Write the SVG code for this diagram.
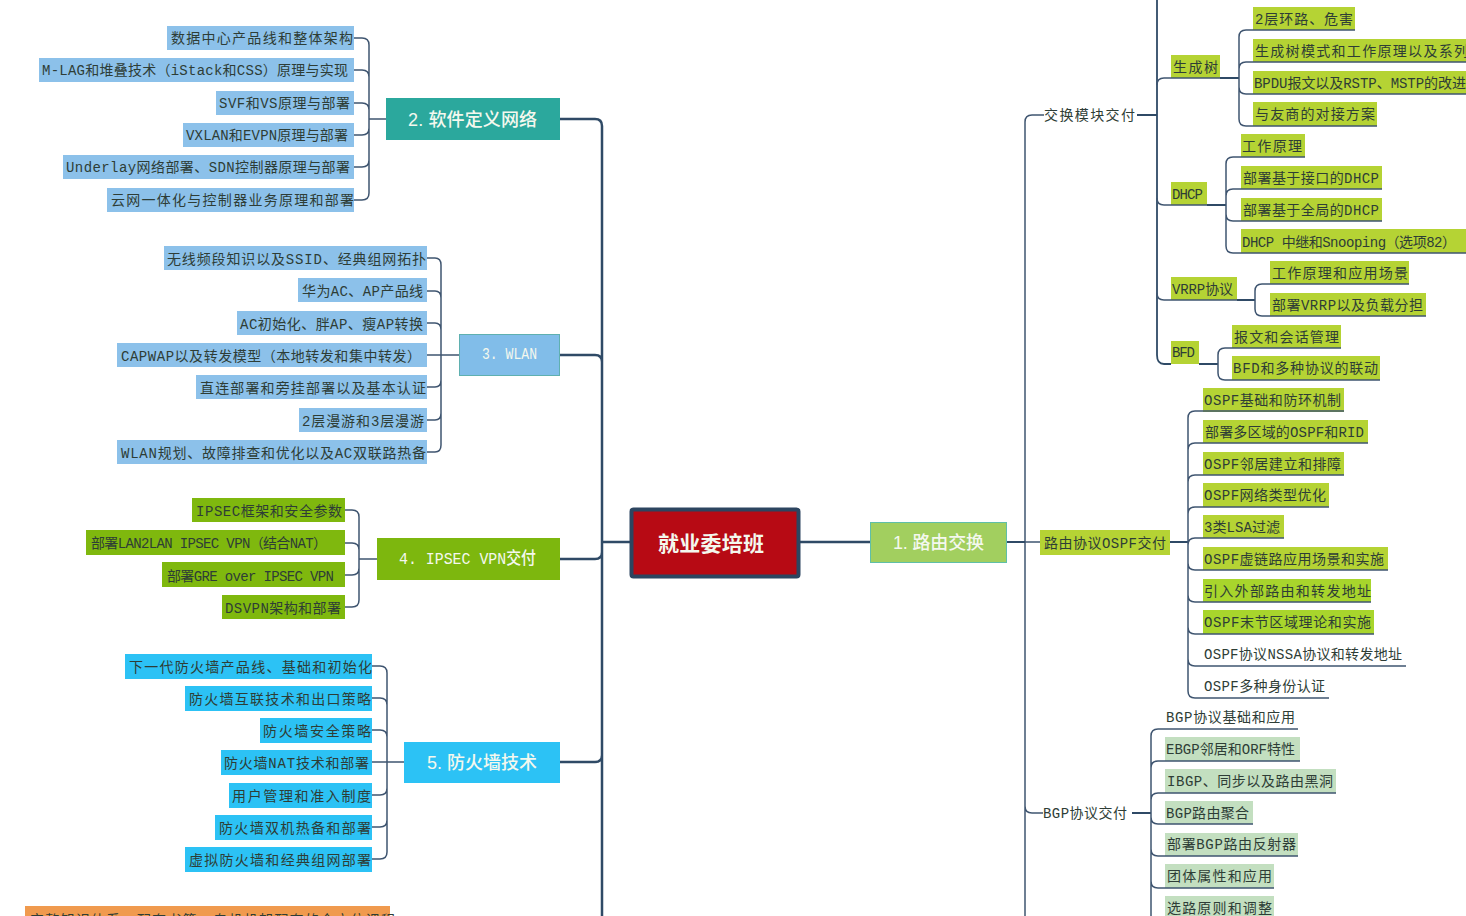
<svg xmlns="http://www.w3.org/2000/svg" width="1466" height="916" viewBox="0 0 1466 916">
<style>
text{font-family:"Liberation Mono","Noto Sans CJK SC",monospace;font-size:14px;fill:#2e3d36;dominant-baseline:central}
.h{font-family:"Liberation Sans","Noto Sans CJK SC",sans-serif;fill:#f4f8ee;font-size:18px;font-weight:500}
.m{font-family:"Liberation Mono","Noto Sans CJK SC",monospace;fill:#f4f8ee;font-size:17px;font-weight:500}
.c{fill:none;stroke:#3f5570;stroke-width:1.5}
.t{fill:none;stroke:#2f4a66;stroke-width:2.5}
.d{fill:none;stroke:#2f4a66;stroke-width:1.8}
.b1{fill:#8cc1ea}.b2{fill:#7fb80e}.b3{fill:#2cc2f5}.g{fill:#b5d334}.g2{fill:#a8d52c}.p{fill:#c3dfc0}
</style>
<rect width="1466" height="916" fill="#fff"/>
<g id="s2">
<g id="s2a"><rect class="b1" x="167" y="26" width="187" height="24"/><text x="171" y="39" textLength="182">数据中心产品线和整体架构</text></g>
<g id="s2b"><rect class="b1" x="39" y="58" width="315" height="24"/><text x="42" y="71" textLength="306">M-LAG和堆叠技术（iStack和CSS）原理与实现</text></g>
<g id="s2c"><rect class="b1" x="216" y="91" width="138" height="24"/><text x="219" y="104" textLength="131">SVF和VS原理与部署</text></g>
<g id="s2d"><rect class="b1" x="183" y="123" width="171" height="24"/><text x="186" y="136" textLength="162">VXLAN和EVPN原理与部署</text></g>
<g id="s2e"><rect class="b1" x="63" y="155" width="291" height="24"/><text x="66" y="168" textLength="284">Underlay网络部署、SDN控制器原理与部署</text></g>
<g id="s2f"><rect class="b1" x="107" y="188" width="247" height="24"/><text x="111" y="201" textLength="243">云网一体化与控制器业务原理和部署</text></g>
</g>
<g id="s3">
<g id="s3a"><rect class="b1" x="164" y="246" width="263" height="24"/><text x="167" y="260" textLength="259">无线频段知识以及SSID、经典组网拓扑</text></g>
<g id="s3b"><rect class="b1" x="298" y="278" width="129" height="24"/><text x="302" y="292" textLength="121">华为AC、AP产品线</text></g>
<g id="s3c"><rect class="b1" x="237" y="311" width="190" height="24"/><text x="240" y="325" textLength="183">AC初始化、胖AP、瘦AP转换</text></g>
<g id="s3d"><rect class="b1" x="117" y="343" width="310" height="24"/><text x="121" y="357" textLength="300">CAPWAP以及转发模型（本地转发和集中转发）</text></g>
<g id="s3e"><rect class="b1" x="196" y="375" width="231" height="24"/><text x="200" y="389" textLength="226">直连部署和旁挂部署以及基本认证</text></g>
<g id="s3f"><rect class="b1" x="299" y="408" width="128" height="24"/><text x="302" y="422" textLength="122">2层漫游和3层漫游</text></g>
<g id="s3g"><rect class="b1" x="117" y="440" width="310" height="24"/><text x="121" y="454" textLength="305">WLAN规划、故障排查和优化以及AC双联路热备</text></g>
</g>
<g id="s4">
<g id="s4a"><rect class="b2" x="192" y="498" width="153" height="24"/><text x="196" y="512" textLength="146">IPSEC框架和安全参数</text></g>
<g id="s4b"><rect class="b2" x="86" y="530" width="259" height="25"/><text x="91" y="544" textLength="236">部署LAN2LAN IPSEC VPN（结合NAT）</text></g>
<g id="s4c"><rect class="b2" x="162" y="562" width="183" height="25"/><text x="167" y="577" textLength="167">部署GRE over IPSEC VPN</text></g>
<g id="s4d"><rect class="b2" x="222" y="595" width="123" height="24"/><text x="225" y="609" textLength="116">DSVPN架构和部署</text></g>
</g>
<g id="s5">
<g id="s5a"><rect class="b3" x="125" y="654" width="247" height="25"/><text x="129" y="668" textLength="243">下一代防火墙产品线、基础和初始化</text></g>
<g id="s5b"><rect class="b3" x="185" y="686" width="187" height="25"/><text x="189" y="700" textLength="182">防火墙互联技术和出口策略</text></g>
<g id="s5c"><rect class="b3" x="260" y="718" width="112" height="25"/><text x="263" y="732" textLength="108">防火墙安全策略</text></g>
<g id="s5d"><rect class="b3" x="221" y="750" width="151" height="25"/><text x="224" y="764" textLength="145">防火墙NAT技术和部署</text></g>
<g id="s5e"><rect class="b3" x="229" y="783" width="143" height="25"/><text x="232" y="797" textLength="139">用户管理和准入制度</text></g>
<g id="s5f"><rect class="b3" x="215" y="815" width="157" height="25"/><text x="219" y="829" textLength="152">防火墙双机热备和部署</text></g>
<g id="s5g"><rect class="b3" x="185" y="847" width="187" height="25"/><text x="189" y="861" textLength="182">虚拟防火墙和经典组网部署</text></g>
</g>
<g id="s6"><rect x="25" y="906" width="365" height="10" fill="#f09a4e"/><text x="30" y="921" textLength="365">完整知识体系、配套书籍、专机机架配套的全方位课程</text></g>

<g id="switching"><text x="1044" y="116" textLength="91">交换模块交付</text></g>
<g id="stp">
<g id="stpn"><rect class="g" x="1171" y="55" width="49" height="23"/><text x="1173" y="68" textLength="45">生成树</text></g>
<g id="stp1"><rect class="g" x="1253" y="7" width="102" height="23"/><text x="1255" y="20" textLength="98">2层环路、危害</text></g>
<g id="stp2"><rect class="g" x="1253" y="39" width="213" height="23"/><text x="1255" y="52" textLength="213">生成树模式和工作原理以及系列</text></g>
<g id="stp3"><rect class="g" x="1253" y="71" width="213" height="23"/><text x="1254" y="84" textLength="212">BPDU报文以及RSTP、MSTP的改进</text></g>
<g id="stp4"><rect class="g" x="1253" y="102" width="124" height="24"/><text x="1255" y="115" textLength="120">与友商的对接方案</text></g>
</g>
<g id="dhcp">
<g id="dhcpn"><rect class="g" x="1171" y="182" width="36" height="23"/><text x="1172" y="195" textLength="31">DHCP</text></g>
<g id="dhcp1"><rect class="g" x="1241" y="134" width="64" height="23"/><text x="1242" y="147" textLength="60">工作原理</text></g>
<g id="dhcp2"><rect class="g" x="1241" y="166" width="141" height="23"/><text x="1243" y="179" textLength="136">部署基于接口的DHCP</text></g>
<g id="dhcp3"><rect class="g" x="1241" y="198" width="141" height="23"/><text x="1243" y="211" textLength="136">部署基于全局的DHCP</text></g>
<g id="dhcp4"><rect class="g" x="1241" y="229" width="225" height="24"/><text x="1242" y="243" textLength="214">DHCP 中继和Snooping（选项82）</text></g>
</g>
<g id="vrrp">
<g id="vrrpn"><rect class="g" x="1171" y="277" width="66" height="23"/><text x="1172" y="290" textLength="61">VRRP协议</text></g>
<g id="vrrp1"><rect class="g" x="1270" y="261" width="139" height="23"/><text x="1272" y="274" textLength="136">工作原理和应用场景</text></g>
<g id="vrrp2"><rect class="g" x="1270" y="293" width="156" height="23"/><text x="1272" y="306" textLength="151">部署VRRP以及负载分担</text></g>
</g>
<g id="bfd">
<g id="bfdn"><rect class="g" x="1171" y="341" width="28" height="23"/><text x="1172" y="353" textLength="23">BFD</text></g>
<g id="bfd1"><rect class="g" x="1232" y="325" width="109" height="23"/><text x="1234" y="338" textLength="105">报文和会话管理</text></g>
<g id="bfd2"><rect class="g" x="1232" y="356" width="148" height="24"/><text x="1233" y="369" textLength="145">BFD和多种协议的联动</text></g>
</g>
<g id="ospf">
<g id="ospfn"><rect class="g" x="1040" y="530" width="130" height="25"/><text x="1044" y="544" textLength="122">路由协议OSPF交付</text></g>
<g id="o1"><rect class="g" x="1203" y="388" width="141" height="24"/><text x="1204" y="401" textLength="137">OSPF基础和防环机制</text></g>
<g id="o2"><rect class="g" x="1203" y="420" width="165" height="23"/><text x="1205" y="433" textLength="159">部署多区域的OSPF和RID</text></g>
<g id="o3"><rect class="g" x="1203" y="452" width="141" height="23"/><text x="1204" y="465" textLength="137">OSPF邻居建立和排障</text></g>
<g id="o4"><rect class="g" x="1203" y="483" width="126" height="24"/><text x="1204" y="496" textLength="122">OSPF网络类型优化</text></g>
<g id="o5"><rect class="g" x="1203" y="515" width="81" height="23"/><text x="1204" y="528" textLength="76">3类LSA过滤</text></g>
<g id="o6"><rect class="g" x="1203" y="547" width="185" height="23"/><text x="1204" y="560" textLength="180">OSPF虚链路应用场景和实施</text></g>
<g id="o7"><rect class="g2" x="1203" y="579" width="168" height="23"/><text x="1204" y="592" textLength="167">引入外部路由和转发地址</text></g>
<g id="o8"><rect class="g2" x="1203" y="610" width="171" height="24"/><text x="1204" y="623" textLength="167">OSPF末节区域理论和实施</text></g>
<g id="o9"><text x="1204" y="655" textLength="198">OSPF协议NSSA协议和转发地址</text></g>
<g id="o10"><text x="1204" y="687" textLength="121">OSPF多种身份认证</text></g>
</g>
<g id="bgp">
<g id="bgpn"><text x="1043" y="814" textLength="84">BGP协议交付</text></g>
<g id="b1"><text x="1166" y="718" textLength="129">BGP协议基础和应用</text></g>
<g id="b2"><rect class="p" x="1165" y="737" width="135" height="24"/><text x="1166" y="750" textLength="129">EBGP邻居和ORF特性</text></g>
<g id="b3"><rect class="p" x="1165" y="769" width="171" height="24"/><text x="1167" y="782" textLength="166">IBGP、同步以及路由黑洞</text></g>
<g id="b4"><rect class="p" x="1165" y="801" width="88" height="23"/><text x="1166" y="814" textLength="83">BGP路由聚合</text></g>
<g id="b5"><rect class="p" x="1165" y="833" width="133" height="23"/><text x="1167" y="845" textLength="129">部署BGP路由反射器</text></g>
<g id="b6"><rect class="p" x="1165" y="864" width="109" height="24"/><text x="1167" y="877" textLength="105">团体属性和应用</text></g>
<g id="b7"><rect class="p" x="1165" y="896" width="109" height="20"/><text x="1167" y="909" textLength="105">选路原则和调整</text></g>
</g>
<g id="connectors">
<path class="t" d="M800 542H870M560 119H595Q602 119 602 126V916M560 355H595Q602 355 602 362M560 559H595Q602 559 602 552M560 762H595Q602 762 602 755M602 542H630"/>
<path class="c" d="M354 38H362Q369 38 369 45V193Q369 200 362 200H354M354 70H362Q369 70 369 77M354 103H362Q369 103 369 110M354 135H362Q369 135 369 128M354 167H362Q369 167 369 160M369 119H386"/>
<path class="c" d="M427 258H435Q441 258 441 265V445Q441 452 435 452H427M427 291H435Q441 291 441 298M427 323H435Q441 323 441 330M427 355H459M427 387H435Q441 387 441 380M427 420H435Q441 420 441 413"/>
<path class="c" d="M345 510H352Q359 510 359 517V600Q359 607 352 607H345M345 543H352Q359 543 359 550M345 575H352Q359 575 359 568M359 559H377"/>
<path class="c" d="M372 666H380Q387 666 387 673V852Q387 859 380 859H372M372 698H380Q387 698 387 705M372 730H380Q387 730 387 737M372 762H404M372 795H380Q387 795 387 788M372 827H380Q387 827 387 820"/>
<path class="c" d="M1007 542H1040M1044 115H1032Q1025 115 1025 122V916M1043 813H1032Q1025 813 1025 806"/>
<path class="d" d="M1025 542H1007M1137 115H1157M1157 0V355Q1157 364 1164 364H1171"/>
<path class="c" d="M1157 85Q1157 78 1164 78H1220M1157 198Q1157 205 1164 205H1207M1157 293Q1157 300 1164 300H1237"/>
<path class="d" d="M1220 78H1239M1207 205H1226M1237 300H1255M1199 364H1218M1170 542H1188M1132 813H1151"/>
<path class="c" d="M1239 37V119Q1239 126 1246 126H1377M1239 37Q1239 30 1246 30H1355M1239 69Q1239 62 1246 62H1466M1239 87Q1239 94 1246 94H1466"/>
<path class="c" d="M1226 164V246Q1226 253 1233 253H1466M1226 164Q1226 157 1233 157H1305M1226 196Q1226 189 1233 189H1382M1226 214Q1226 221 1233 221H1382"/>
<path class="c" d="M1255 291V309Q1255 316 1262 316H1426M1255 291Q1255 284 1262 284H1409"/>
<path class="c" d="M1218 355V373Q1218 380 1225 380H1380M1218 355Q1218 348 1225 348H1341"/>
<path class="c" d="M1188 418V691Q1188 698 1195 698H1329M1188 418Q1188 411 1195 411H1344M1188 450Q1188 443 1195 443H1368M1188 482Q1188 475 1195 475H1344M1188 514Q1188 507 1195 507H1329M1188 545Q1188 538 1195 538H1284M1188 563Q1188 570 1195 570H1388M1188 595Q1188 602 1195 602H1371M1188 627Q1188 634 1195 634H1374M1188 659Q1188 666 1195 666H1406"/>
<path class="c" d="M1151 736V916M1151 736Q1151 729 1158 729H1298M1151 768Q1151 761 1158 761H1300M1151 800Q1151 793 1158 793H1336M1151 817Q1151 824 1158 824H1253M1151 849Q1151 856 1158 856H1298M1151 881Q1151 888 1158 888H1274"/>
</g>
<g id="root"><rect x="631.500" y="509.500" width="167" height="67" rx="2" fill="#b70a14" stroke="#2d4560" stroke-width="4"/><text class="h" x="658" y="543" textLength="106" style="font-size:21px;font-weight:700">就业委培班</text></g>
<g id="n1"><rect x="870.500" y="522.500" width="136" height="40" fill="#a2cf5f" stroke="#5fbfa8"/><text class="h" x="893" y="543" textLength="91">1. 路由交换</text></g>
<g id="n2"><rect x="386" y="98" width="174" height="42" fill="#2ba89d"/><text class="h" x="408" y="120" textLength="129">2. 软件定义网络</text></g>
<g id="n3"><rect x="459.500" y="334.500" width="100" height="41" fill="#81bde9" stroke="#5fb0b0"/><text class="m" x="482" y="354" textLength="55" lengthAdjust="spacingAndGlyphs">3. WLAN</text></g>
<g id="n4"><rect x="377" y="538" width="183" height="42" fill="#7db70e"/><text class="m" x="399" y="559" textLength="137" lengthAdjust="spacingAndGlyphs">4. IPSEC VPN交付</text></g>
<g id="n5"><rect x="404" y="742" width="156" height="41" fill="#2cc2f5"/><text class="h" x="427" y="763" textLength="110">5. 防火墙技术</text></g>
</svg>
